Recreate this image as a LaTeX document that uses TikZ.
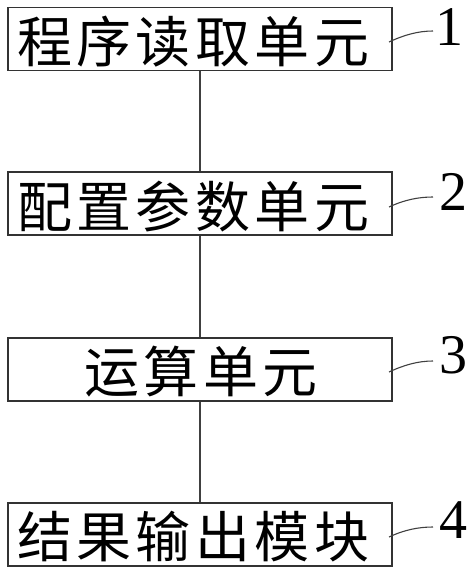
\documentclass[tikz,border=0pt]{standalone}
\usepackage{fontspec}
\setmainfont{Liberation Serif}
\newfontfamily\cjk[LetterSpace=8]{Noto Sans CJK SC}
\begin{document}
\begin{tikzpicture}[x=1pt,y=-1pt,
  box/.style={draw=black!80, line width=1.3pt, minimum width=384pt, minimum height=63pt, inner sep=0pt},
  lbl/.style={inner sep=0pt, font=\cjk\fontsize{55}{58}\selectfont},
  num/.style={inner sep=0pt, font=\fontsize{56}{60}\selectfont},
  conn/.style={draw=black!75, line width=1.3pt},
  lead/.style={draw=black!75, line width=1.1pt}]
\useasboundingbox (0,0) rectangle (474,573);
\node[box] (b1) at (200,39) {};
\node[box] (b2) at (200,203.5) {};
\node[box] (b3) at (200,369.5) {};
\node[box] (b4) at (200,534.5) {};
\node[lbl] (t1) at (193,42) {程序读取单元};
\node[lbl] (t2) at (193,207) {配置参数单元};
\node[lbl] (t3) at (201,372) {运算单元};
\node[lbl] (t4) at (193,537) {结果输出模块};
\draw[conn] (b1.south) -- (b2.north);
\draw[conn] (b2.south) -- (b3.north);
\draw[conn] (b3.south) -- (b4.north);
\node[num] (n1) at (449,27) {1};
\node[num] (n2) at (453,192) {2};
\node[num] (n3) at (453,355) {3};
\node[num] (n4) at (453,520) {4};
\coordinate (s1) at (389,42); \coordinate (e1) at (433,31);
\coordinate (s2) at (389,207); \coordinate (e2) at (433,197);
\coordinate (s3) at (389,372); \coordinate (e3) at (433,361);
\coordinate (s4) at (389,537); \coordinate (e4) at (433,527);
\draw[lead] (s1) .. controls (404,35) and (418,31) .. (e1);
\draw[lead] (s2) .. controls (404,200) and (418,197) .. (e2);
\draw[lead] (s3) .. controls (404,365) and (418,361) .. (e3);
\draw[lead] (s4) .. controls (404,530) and (418,527) .. (e4);
\end{tikzpicture}
\end{document}
